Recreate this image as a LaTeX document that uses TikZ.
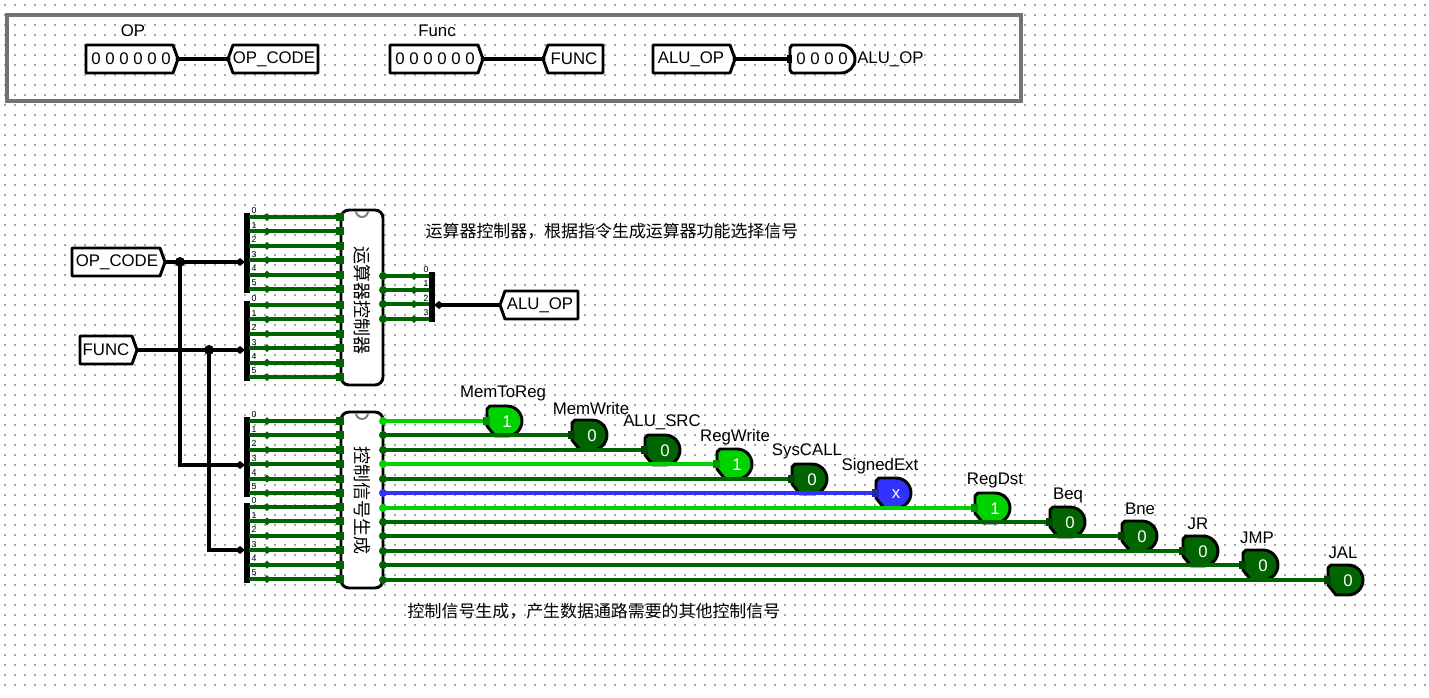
\documentclass[tikz,border=0pt]{standalone}
\usepackage{fontspec}
\setmainfont{Liberation Sans}
\newfontfamily\cjk{Noto Sans CJK SC}
\begin{document}
\begin{tikzpicture}[x=0.75pt,y=-0.75pt,
  lbl/.style={font=\fontsize{12.6}{13}\selectfont,inner sep=0pt},
  tiny/.style={font=\fontsize{6.5}{6.5}\selectfont,inner sep=0pt},
  bw/.style={line width=2.6pt,black},
  dg/.style={line width=3pt,draw=dkg},
  sh/.style={line width=2.2pt,black,line join=round}]
\definecolor{dkg}{RGB}{0,100,0}
\definecolor{ltg}{RGB}{0,210,0}
\definecolor{blu}{RGB}{50,50,255}
\useasboundingbox (0,0) rectangle (1429,697);
\fill[white] (0,0) rectangle (1429,697);
\foreach \j in {0,...,68}{\draw[gray!70,line width=0.9pt,dash pattern=on 0.9pt off 6.6pt] (4.4,5+10*\j)--(1429,5+10*\j);}
% top box
\draw[line width=3pt,gray!90!black] (7,15) rectangle (1021,101);
\draw[sh,fill=white] (86,45)--(173,45)--(178,59)--(173,73)--(86,73)--cycle;
\node[lbl] (op) at (131,59) {0 0 0 0 0 0};
\node[lbl] (opl) at (133,31) {OP};
\draw[sh,fill=white] (233,45)--(318,45)--(318,73)--(233,73)--(228,59)--cycle;
\node[lbl] (opc) at (274,59) {OP\_CODE};
\coordinate (a1) at (178,59); \coordinate (a2) at (228,59);
\draw[bw] (a1)--(a2); \fill (a1) circle (2.5); \fill (a2) circle (2.5);
\draw[sh,fill=white] (390,45)--(478,45)--(483,59)--(478,73)--(390,73)--cycle;
\node[lbl] (fn) at (435,59) {0 0 0 0 0 0};
\node[lbl] (fnl) at (437,31) {Func};
\draw[sh,fill=white] (548,45)--(603,45)--(603,73)--(548,73)--(543,59)--cycle;
\node[lbl] (fnc) at (574,59) {FUNC};
\coordinate (b1) at (483,59); \coordinate (b2) at (543,59);
\draw[bw] (b1)--(b2); \fill (b1) circle (2.5); \fill (b2) circle (2.5);
\draw[sh,fill=white] (653,45)--(730,45)--(735,59)--(730,73)--(653,73)--cycle;
\node[lbl] (aot) at (691,59) {ALU\_OP};
\draw[sh,fill=white] (792,45)--(841,45) arc[start angle=90,end angle=-90,radius=10.5pt]--(792,73)--(790,70)--(790,48)--cycle;
\node[lbl] (aov) at (822,59) {0 0 0 0};
\node[lbl,anchor=west] (aol) at (857,59) {ALU\_OP};
\coordinate (c1) at (735,59); \coordinate (c2) at (790,59);
\draw[bw] (c1)--(c2); \fill (c1) circle (2.5); \fill[black] (787,55) rectangle (792,63);
% main tunnels
\draw[sh,fill=white] (72,248)--(160,248)--(165,262)--(160,276)--(72,276)--cycle;
\node[lbl] (topc) at (117,262) {OP\_CODE};
\draw[sh,fill=white] (80,336)--(132,336)--(137,350)--(132,364)--(80,364)--cycle;
\node[lbl] (tfn) at (106,350) {FUNC};
\coordinate (p0) at (165,262); \coordinate (j1) at (180,262); \coordinate (s1) at (240,262);
\coordinate (f0) at (137,350); \coordinate (j2) at (209,350); \coordinate (s2) at (240,350);
\coordinate (s3) at (240,465); \coordinate (s4) at (240,550);
\draw[bw] (p0)--(s1); \draw[bw] (f0)--(s2);
\draw[bw] (j1)--(180,465)--(s3); \draw[bw] (j2)--(209,550)--(s4);
\fill (j1) circle (5); \fill (j2) circle (5);
% splitters
\foreach \t/\c in {217/s1,305/s2,421/s3,507/s4}{
  \draw[line width=5pt] (247,\t-4)--(247,\t+76);
  \fill (\c) +(-5,0)--+(0,-4)--+(5,0)--+(0,4)--cycle;
  \foreach \k in {0,...,5}{
    \pgfmathsetmacro\yy{\t+14.4*\k}
    \draw[dg] (249,\yy)--(340,\yy);
    \fill[dkg] (267,\yy-4)--(271,\yy)--(267,\yy+4)--(263,\yy)--cycle;
    \node[tiny] at (254,\yy-6) {\k};
  }}
% components
\draw[sh,fill=white,rounded corners=6pt] (341,210) rectangle (383,385);
\draw[gray,line width=1.5pt] (356,211) arc[start angle=180,end angle=360,radius=4.5pt];
\node[font=\cjk\fontsize{13.5}{14}\selectfont,rotate=-90] (alu) at (362,300) {运算器控制器};
\draw[sh,fill=white,rounded corners=6pt] (341,412) rectangle (383,588);
\draw[gray,line width=1.5pt] (356,413) arc[start angle=180,end angle=360,radius=4.5pt];
\node[font=\cjk\fontsize{13.5}{14}\selectfont,rotate=-90] (ctl) at (362,500) {控制信号生成};
\draw[line width=2pt] (341,217)--(341,377); \draw[line width=2pt] (341,421)--(341,580);
\foreach \t in {217,305,421,507}{\foreach \k in {0,...,5}{\pgfmathsetmacro\yy{\t+14.4*\k}\fill[dkg] (336,\yy-4) rectangle (344,\yy+4);}}
% alu outputs
\foreach \k/\yy in {0/276,1/290,2/304,3/319}{
  \draw[dg] (383,\yy)--(430,\yy);
  \fill[dkg] (383,\yy) circle (4);
  \fill[dkg] (414,\yy-4)--(418,\yy)--(414,\yy+4)--(410,\yy)--cycle;
  \node[tiny] at (426,\yy-6) {\k};}
\draw[line width=5pt] (432,272)--(432,322);
\coordinate (sa) at (439,305); \coordinate (ta) at (500,305);
\draw[bw] (sa)--(ta); \fill (sa) +(-5,0)--+(0,-4)--+(5,0)--+(0,4)--cycle;
\draw[sh,fill=white] (505,291)--(578,291)--(578,319)--(505,319)--(500,305)--cycle;
\node[lbl] (tao) at (540,305) {ALU\_OP};
% control outputs
\foreach \yy/\xx/\col/\v/\nm/\lx/\ly in {
 421/487/ltg/1/MemToReg/503/393, 435/572/dkg/0/MemWrite/591/408,
 450/645/dkg/0/ALU\_SRC/662/422, 464/717/ltg/1/RegWrite/735/437,
 479/792/dkg/0/SysCALL/807/451, 493/876/blu/x/SignedExt/880/466,
 508/975/ltg/1/RegDst/995/480, 522/1050/dkg/0/Beq/1068/495,
 536/1122/dkg/0/Bne/1140/509, 551/1183/dkg/0/JR/1198/524,
 565/1243/dkg/0/JMP/1257/538, 580/1328/dkg/0/JAL/1343/553}{
  \draw[line width=3pt,draw=\col] (383,\yy)--(\xx,\yy);
  \fill[\col] (383,\yy) circle (4);
  \draw[sh,fill=\col] (\xx+3,\yy-15)--(\xx+20,\yy-15) arc[start angle=90,end angle=-90,radius=11.25pt]--(\xx+8,\yy+15)--(\xx,\yy+5)--(\xx,\yy-12)--cycle;
  \fill[\col!70!black] (\xx-4,\yy-4) rectangle (\xx+3,\yy+4);
  \node[lbl,white] at (\xx+20,\yy+1) {\v};
  \node[lbl] at (\lx,\ly) {\nm};}
\node[font=\cjk\fontsize{12.7}{14}\selectfont] (t1) at (612,231) {运算器控制器，根据指令生成运算器功能选择信号};
\node[font=\cjk\fontsize{12.7}{14}\selectfont] (t2) at (594,611) {控制信号生成，产生数据通路需要的其他控制信号};
\end{tikzpicture}
\end{document}
